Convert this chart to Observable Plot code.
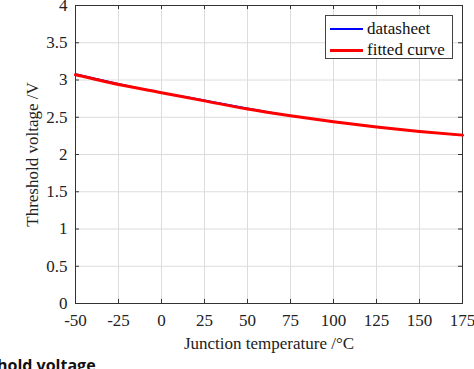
<!DOCTYPE html>
<html><head><meta charset="utf-8">
<script src="https://cdn.jsdelivr.net/npm/d3@7"></script>
<script src="https://cdn.jsdelivr.net/npm/@observablehq/plot@0.6"></script>
<style>
body{margin:0;background:#fff;overflow:hidden}
#wrap{position:relative;width:474px;height:369px;overflow:hidden;background:#fff}
#legend{position:absolute;left:325px;top:15px;width:126px;height:42px;border:1px solid #444;background:#fff;font:17px "Liberation Serif",serif;color:#111}
.row{position:absolute;left:0;height:20px;width:126px}
.row .ln{position:absolute;left:4px;width:33px;top:9px}
.row .tx{position:absolute;left:41px;top:0;line-height:20px;white-space:nowrap}
#caption{position:absolute;left:-3px;top:355px;font:bold 16px "Open Sans",sans-serif;line-height:20px;color:#111;white-space:nowrap}
</style></head>
<body><div id="wrap"></div>
<script>
const temps = [-50, -25, 0, 25, 50, 75, 100, 125, 150, 175];
const datasheet = [3.08, 2.95, 2.83, 2.73, 2.62, 2.52, 2.44, 2.37, 2.31, 2.26];
const fitted = [3.07, 2.94, 2.83, 2.72, 2.61, 2.52, 2.44, 2.37, 2.31, 2.26];
const xTicks = [-50, -25, 0, 25, 50, 75, 100, 125, 150, 175];
const yTicks = [0, 0.5, 1, 1.5, 2, 2.5, 3, 3.5, 4];
const seriesNames = ["datasheet", "fitted curve"];
const seriesColors = ["#0000ff", "#ff0000"];

const dsRows = temps.map((t, i) => ({t, v: datasheet[i]}));
const fitRows = temps.map((t, i) => ({t, v: fitted[i]}));
const fmt = d => String(d);

const chart = Plot.plot({
  width: 474, height: 358,
  marginLeft: 75, marginRight: 12, marginTop: 5, marginBottom: 55,
  style: {fontFamily: '"Liberation Serif", serif', fontSize: "17px", color: "#222", background: "#fff"},
  x: {domain: [-50, 175], ticks: xTicks, tickFormat: fmt},
  y: {domain: [0, 4], ticks: yTicks, tickFormat: fmt},
  marks: [
    Plot.gridX(xTicks, {stroke: "#dcdcdc", strokeOpacity: 1}),
    Plot.gridY(yTicks, {stroke: "#dcdcdc", strokeOpacity: 1}),
    Plot.axisX(xTicks, {tickSize: 0, tickPadding: 10, tickFormat: fmt, label: "Junction temperature /°C", labelAnchor: "center", labelOffset: 45, labelArrow: "none", fontSize: 17}),
    Plot.axisY(yTicks, {tickSize: 0, tickPadding: 8, tickFormat: fmt, label: "Threshold voltage /V", labelAnchor: "center", labelOffset: 50, labelArrow: "none", fontSize: 17}),
    Plot.ruleX(xTicks, {y1: 0, y2: 0.055, stroke: "#333"}),
    Plot.ruleX(xTicks, {y1: 4, y2: 3.945, stroke: "#333"}),
    Plot.ruleY(yTicks, {x1: -50, x2: -47.7, stroke: "#333"}),
    Plot.ruleY(yTicks, {x1: 175, x2: 172.7, stroke: "#333"}),
    Plot.frame({stroke: "#333", strokeWidth: 1}),
    Plot.line(dsRows, {x: "t", y: "v", stroke: seriesColors[0], strokeWidth: 1.5, curve: "monotone-x"}),
    Plot.line(fitRows, {x: "t", y: "v", stroke: seriesColors[1], strokeWidth: 3, curve: "monotone-x"})
  ]
});
const wrap = document.getElementById("wrap");
wrap.appendChild(chart);

const legend = document.createElement("div");
legend.id = "legend";
seriesNames.forEach((name, i) => {
  const row = document.createElement("div");
  row.className = "row";
  row.style.top = (3 + i * 21) + "px";
  const ln = document.createElement("div");
  ln.className = "ln";
  ln.style.borderTop = (i === 0 ? 2 : 3) + "px solid " + seriesColors[i];
  const tx = document.createElement("div");
  tx.className = "tx";
  tx.textContent = name;
  row.appendChild(ln); row.appendChild(tx);
  legend.appendChild(row);
});
wrap.appendChild(legend);

const cap = document.createElement("div");
cap.id = "caption";
cap.textContent = "hold voltage";
wrap.appendChild(cap);
</script>
</body></html>
